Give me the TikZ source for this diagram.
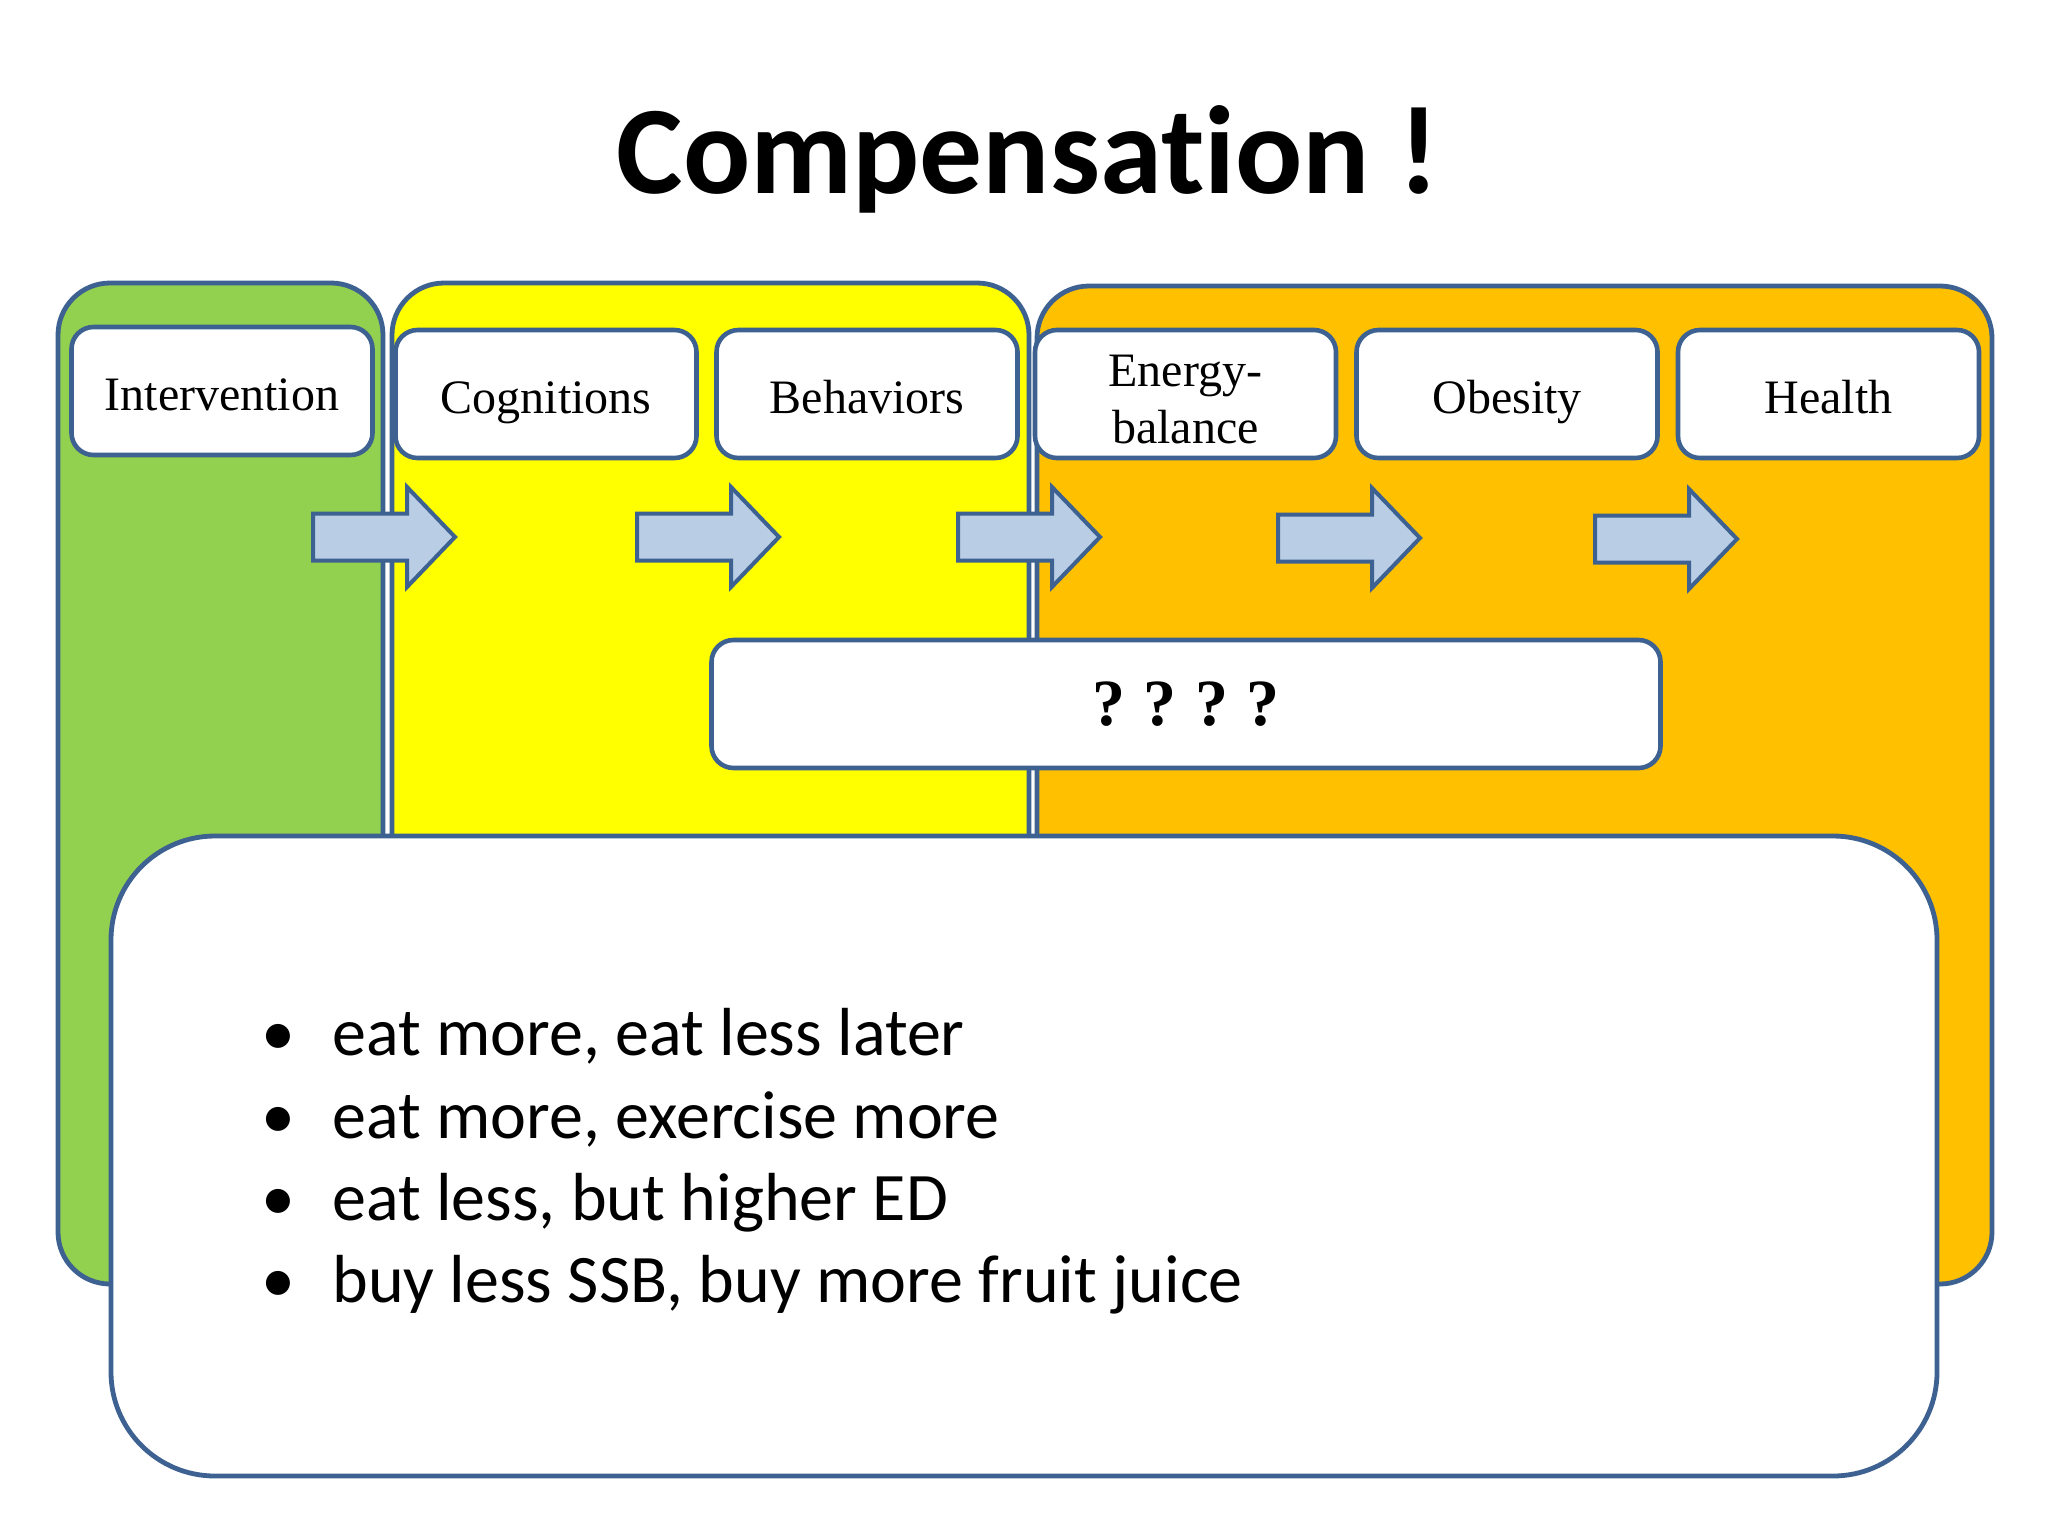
\documentclass[tikz,border=0pt]{standalone}
\usepackage{fontspec}
\setmainfont{Liberation Serif}
\newfontfamily\calibri[Ligatures=NoCommon]{Carlito}
\definecolor{bord}{HTML}{3D6190}
\definecolor{pgreen}{HTML}{92D050}
\definecolor{pyellow}{HTML}{FFFF00}
\definecolor{porange}{HTML}{FFC000}
\definecolor{arrowfill}{HTML}{B9CDE5}
\tikzset{
  panel/.style={draw=bord,line width=2.4pt,rounded corners=26pt,inner sep=0pt},
  hbox/.style={draw=bord,fill=white,line width=2.3pt,rounded corners=11pt,
    minimum width=150.5pt,minimum height=64pt,inner sep=0pt,align=center,
    font=\fontsize{24}{28.2}\selectfont},
  hone/.style={hbox,text height=22pt,text depth=3pt},
  bullet/.style={anchor=base west,inner sep=0pt,font=\calibri\fontsize{34}{41}\selectfont},
  blockarrow/.pic={\draw[draw=bord,fill=arrowfill,line width=2pt,line join=miter]
    (0,-23.5) -- (94,-23.5) -- (94,-50) -- (142,0) -- (94,50) -- (94,23.5) -- (0,23.5) -- cycle;}
}
\begin{document}
\begin{tikzpicture}[x=0.5pt,y=-0.5pt]
\useasboundingbox[fill=white] (0,0) rectangle (2048,1536);
% title
\node[anchor=base,inner sep=0pt,font=\calibri\bfseries\fontsize{62.7}{70}\selectfont] (title) at (1028,193) {Compensation !};
% panels
\node[panel,fill=pgreen,minimum width=162.5pt,minimum height=500.5pt] (green) at (220.5,783.5) {};
\node[panel,fill=pyellow,minimum width=318.5pt,minimum height=500.5pt] (yellow) at (710.5,783.5) {};
\node[panel,fill=porange,minimum width=477.5pt,minimum height=499pt] (orange) at (1514.5,785) {};
% header boxes
\node[hone] (interv) at (222,391) {Intervention};
\node[hone] (cogn) at (546,394) {Cognitions};
\node[hone] (behav) at (867,394) {Behaviors};
\node[hbox] (energy) at (1185.5,394) {\raisebox{-24.5pt}[0pt][0pt]{\begin{tabular}[b]{@{}c@{}}Energy-\\balance\end{tabular}}};
\node[hone] (obes) at (1507,394) {Obesity};
\node[hone] (health) at (1828.5,394) {Health};
% block arrows
\pic at (313,537) {blockarrow};
\pic at (637,537) {blockarrow};
\pic at (958,537) {blockarrow};
\pic at (1278,538) {blockarrow};
\pic at (1595,539) {blockarrow};
% question box
\node[hbox,minimum width=474.5pt,minimum height=64pt,font=\bfseries\fontsize{33}{38}\selectfont] (quest) at (1186,704) {?\hspace{9.2pt}?\hspace{9.2pt}?\hspace{9.2pt}?};
% bottom box
\node[draw=bord,fill=white,line width=2.4pt,rounded corners=52pt,minimum width=913pt,minimum height=320pt,inner sep=0pt] (list) at (1024,1156) {};
\node[bullet] (b1) at (261,1055) {\makebox[35.5pt][l]{•}eat more, eat less later};
\node[bullet] (b2) at (261,1138) {\makebox[35.5pt][l]{•}eat more, exercise more};
\node[bullet] (b3) at (261,1220) {\makebox[35.5pt][l]{•}eat less, but higher ED};
\node[bullet] (b4) at (261,1302) {\makebox[35.5pt][l]{•}buy less SSB, buy more fruit juice};
\end{tikzpicture}
\end{document}
